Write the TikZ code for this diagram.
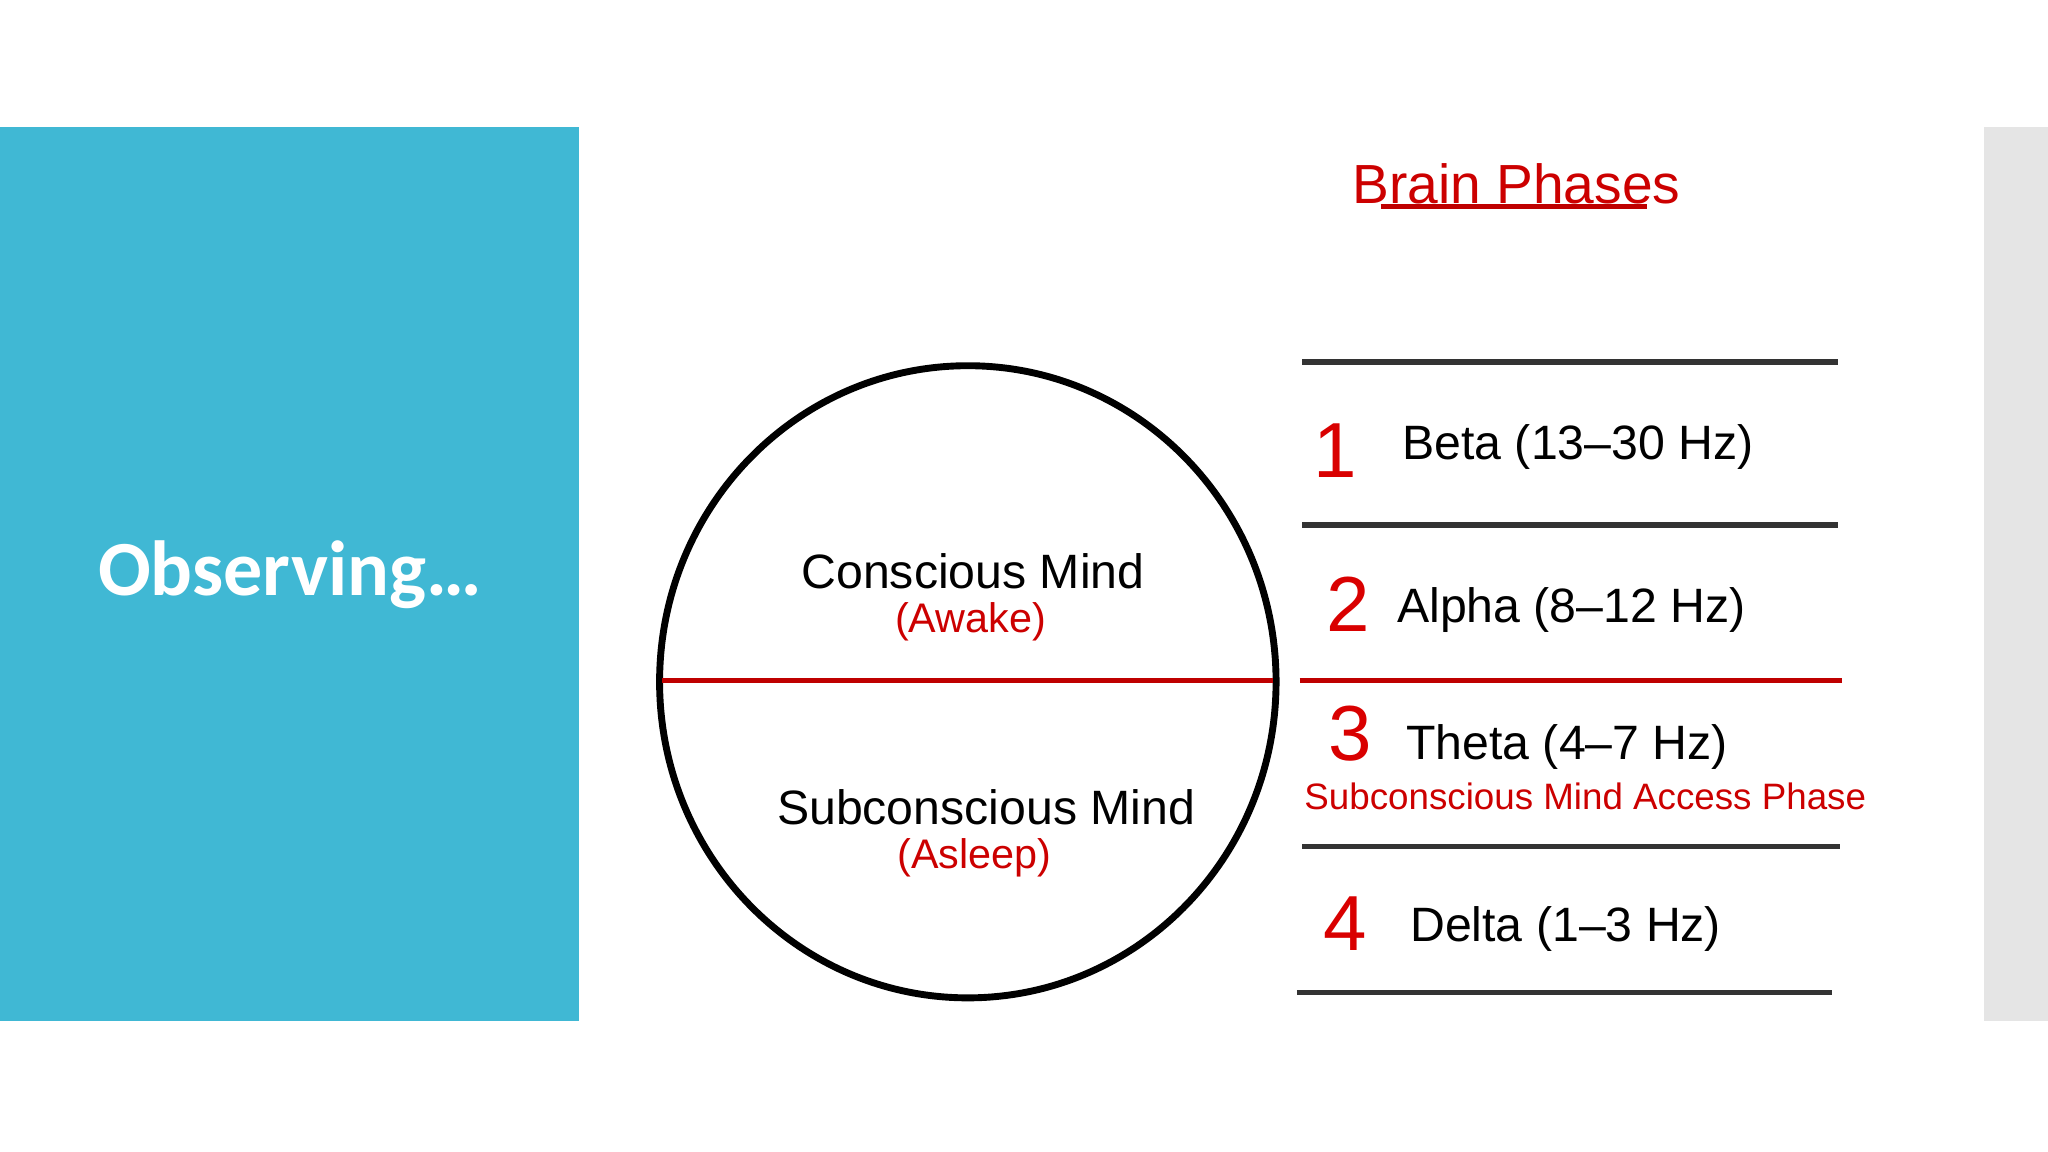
\documentclass[tikz,border=0pt]{standalone}
\usepackage{fontspec}
\setmainfont{Liberation Sans}
\newfontfamily\obsfont{Carlito}
\begin{document}
\begin{tikzpicture}[x=0.01cm,y=-0.01cm,
  lbl/.style={font=\fontsize{10.5}{12}\selectfont, text=black, inner sep=0},
  rlbl/.style={font=\fontsize{8}{10}\selectfont, text=red!80!black, inner sep=0},
  num/.style={font=\fontsize{17}{20}\selectfont, text=red!85!black, inner sep=0},
  blk/.style={line width=1.2pt, black!80},
  redl/.style={line width=1pt, red!75!black}]
\useasboundingbox (0,0) rectangle (1568,882);
\fill[white] (0,0) rectangle (1568,882);
\fill[fill={rgb,255:red,64;green,184;blue,212}] (0,97) rectangle (443,782);
\fill[black!10] (1519,97) rectangle (1568,782);
\node[text=white, font=\obsfont\bfseries\fontsize{17}{20}\selectfont] (obs) at (222,440) {Observing\dots};
% circle
\draw[line width=1.5pt] (741,522) ellipse [x radius=236, y radius=242];
\coordinate (cl) at (507,521); \coordinate (cr) at (975,521);
\draw[redl] (cl) -- (cr);
\node[lbl] (cm) at (745,437) {Conscious Mind};
\node[rlbl, font=\fontsize{9}{10}\selectfont] (aw) at (743,476) {(Awake)};
\node[lbl] (sm) at (755,618) {Subconscious Mind};
\node[rlbl, font=\fontsize{9}{10}\selectfont] (as) at (746,657) {(Asleep)};
% title
\node[rlbl, font=\fontsize{12}{14}\selectfont] (bp) at (1161,141) {Brain Phases};
\draw[redl] (1057,158) -- (1261,158);
% lines
\draw[blk] (997,277) -- (1407,277);
\draw[blk] (997,402) -- (1407,402);
\draw[redl] (995,521) -- (1410,521);
\draw[blk] (997,648) -- (1409,648);
\draw[blk] (993,760) -- (1403,760);
% phases
\node[num] (n1) at (1022,345) {1};
\node[lbl, anchor=west] (b) at (1073,342) {Beta (13–30 Hz)};
\node[num] (n2) at (1032,463) {2};
\node[lbl, anchor=west] (a) at (1069,467) {Alpha (8–12 Hz)};
\node[num] (n3) at (1034,562) {3};
\node[lbl, anchor=west] (t) at (1076,572) {Theta (4–7 Hz)};
\node[rlbl, anchor=west] (sa) at (998,610) {Subconscious Mind Access Phase};
\node[num] (n4) at (1030,707) {4};
\node[lbl, anchor=west] (d) at (1079,711) {Delta (1–3 Hz)};
\end{tikzpicture}
\end{document}
